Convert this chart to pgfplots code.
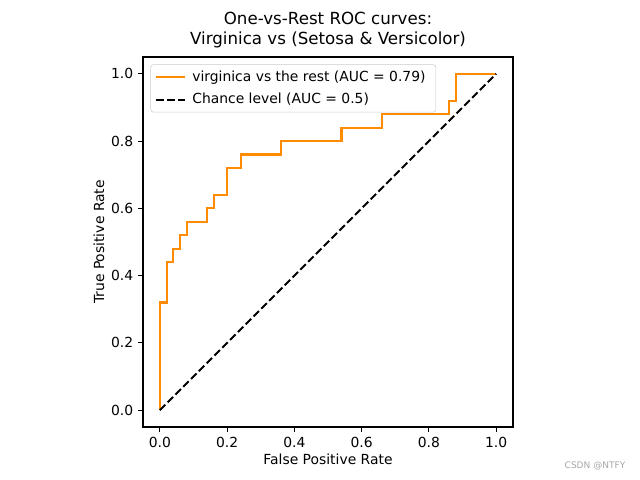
\documentclass[border=0pt]{standalone}
\usepackage{fontspec}
\setmainfont{DejaVu Sans}
\usepackage{pgfplots}
\pgfplotsset{compat=1.18}
\definecolor{mplorange}{RGB}{255,140,0}
\begin{document}
\begin{tikzpicture}[x=0.72bp,y=0.72bp]
\begin{axis}[
    at={(0,0)}, anchor=south west,
    scale only axis,
    width=266.4bp, height=266.4bp,
    xmin=-0.05, xmax=1.05, ymin=-0.05, ymax=1.05,
    xtick={0,0.2,0.4,0.6,0.8,1.0},
    ytick={0,0.2,0.4,0.6,0.8,1.0},
    tick align=outside, tick pos=left,
    major tick length=3.5bp,
    tick style={black, line width=0.8bp},
    axis line style={line width=0.8bp},
    /pgf/number format/assume math mode=true,
    /pgf/number format/.cd, fixed, fixed zerofill, precision=1, /pgfplots/.cd,
    ticklabel style={font=\fontsize{10bp}{12bp}\selectfont},
    xlabel={False Positive Rate}, ylabel={True Positive Rate},
    label style={font=\fontsize{10bp}{12bp}\selectfont},
    xlabel style={yshift=2bp}, ylabel style={yshift=-2bp},
    title={One-vs-Rest ROC curves:\\Virginica vs (Setosa \& Versicolor)},
    title style={font=\fontsize{12bp}{14.5bp}\selectfont, align=center, yshift=-3bp},
    legend style={at={(0.02,0.98)}, anchor=north west,
        font=\fontsize{10bp}{12bp}\selectfont,
        draw=black!20, rounded corners=2bp, fill=white, fill opacity=0.8, text opacity=1,
        inner xsep=3bp, inner ysep=2.5bp, row sep=3bp,
        nodes={inner xsep=4.5bp}},
    legend cell align=left,
    legend image code/.code={\draw[#1] (0bp,0bp) -- (21bp,0bp);},
]
\addplot[mplorange, line width=1.5bp] coordinates {
(0,0) (0,0.32) (0.02,0.32) (0.02,0.44) (0.04,0.44) (0.04,0.48)
(0.06,0.48) (0.06,0.52) (0.08,0.52) (0.08,0.56) (0.14,0.56) (0.14,0.60)
(0.16,0.60) (0.16,0.64) (0.20,0.64) (0.20,0.72) (0.24,0.72) (0.24,0.76)
(0.36,0.76) (0.36,0.80) (0.54,0.80) (0.54,0.84) (0.66,0.84) (0.66,0.88)
(0.86,0.88) (0.86,0.92) (0.88,0.92) (0.88,1.0) (1,1)};
\addlegendentry{virginica vs the rest (AUC = 0.79)}
\addplot[black, line width=1.5bp, dash pattern=on 5.55bp off 2.4bp] coordinates {(0,0) (1,1)};
\addlegendentry{Chance level (AUC = 0.5)}
\end{axis}
\node[text=black!35, font=\fontsize{6.5bp}{7bp}\selectfont] at (452,-39) {CSDN @NTFY};
\useasboundingbox (-143,-53) rectangle (497,427);
\end{tikzpicture}
\end{document}
